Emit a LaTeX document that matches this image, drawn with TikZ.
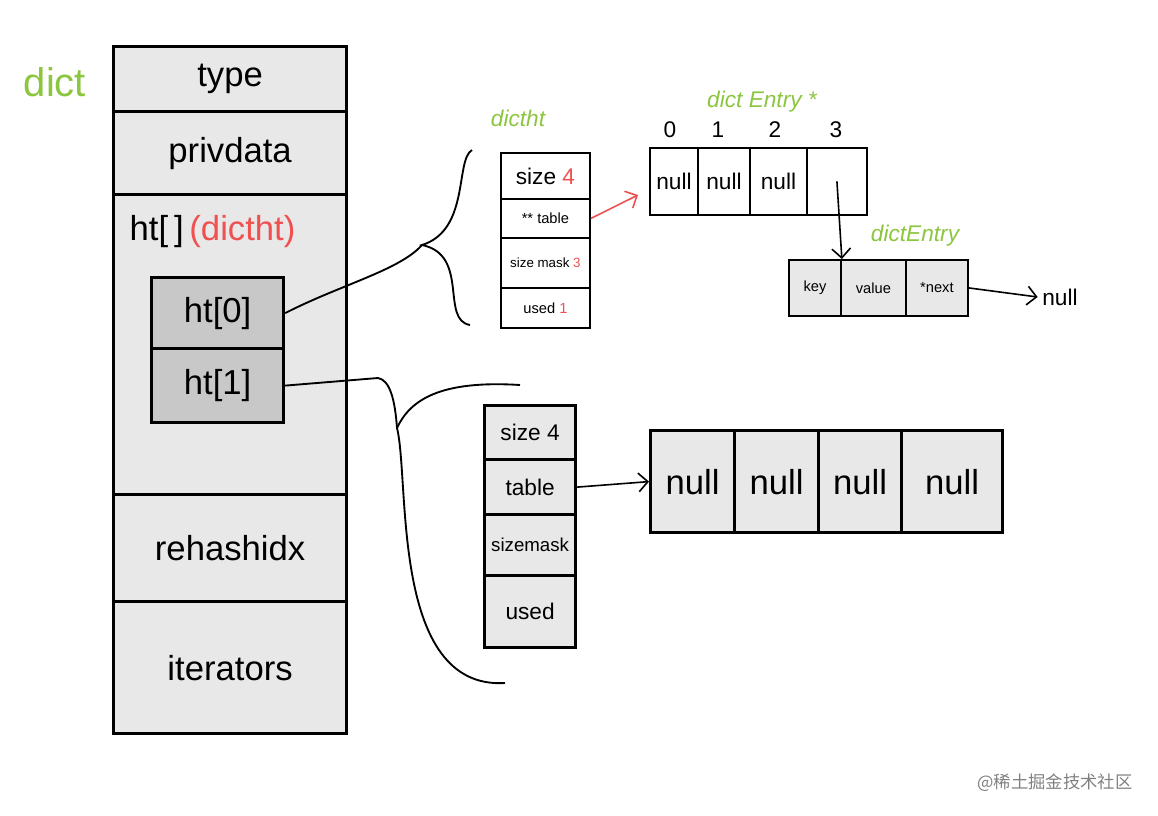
\documentclass[tikz,border=0pt]{standalone}
\usepackage{fontspec}
\setmainfont{Liberation Sans}
\newfontfamily\cjk{Noto Sans CJK SC}
\usetikzlibrary{arrows.meta}
\definecolor{lg}{HTML}{E8E8E8}
\definecolor{dg}{HTML}{C8C8C8}
\definecolor{gr}{HTML}{8CC63F}
\definecolor{rd}{HTML}{F05050}
\begin{document}
\begin{tikzpicture}[x=0.75pt,y=-0.75pt,
  thick box/.style={draw,line width=2.4pt,fill=lg,inner sep=1pt},
  thin box/.style={draw,line width=1.4pt,fill=white,inner sep=1pt},
  big/.style={font=\fontsize{26}{28}\selectfont},
  mid/.style={font=\fontsize{17}{19}\selectfont},
  small/.style={font=\fontsize{11}{13}\selectfont},
  lbl/.style={text=gr,font=\itshape\fontsize{17}{19}\selectfont},
  conn/.style={line width=1.4pt},
  arr/.style={line width=1.2pt,-{Straight Barb[length=7pt]}}]
\useasboundingbox (0,0) rectangle (1158,815);
% dict struct
\node[thick box,minimum width=233*0.75pt,minimum height=65*0.75pt,anchor=north west,big] (type) at (112,45) {type};
\node[thick box,minimum width=233*0.75pt,minimum height=83*0.75pt,anchor=north west,big] (priv) at (112,110) {privdata};
\node[thick box,minimum width=233*0.75pt,minimum height=300*0.75pt,anchor=north west] (ht) at (112,193) {};
\node[thick box,minimum width=233*0.75pt,minimum height=107*0.75pt,anchor=north west,big] (rh) at (112,493) {rehashidx};
\node[thick box,minimum width=233*0.75pt,minimum height=132*0.75pt,anchor=north west,big] (it) at (112,600) {iterators};
\node[big,anchor=west] (htl) at (125,232) {ht[\,]\,\textcolor{rd}{(dictht)}};
\node[text=gr,font=\fontsize{30}{32}\selectfont] (dl) at (55,82) {dict};
\node[thick box,fill=dg,minimum width=132*0.75pt,minimum height=71*0.75pt,anchor=north west,big] (h0) at (150,276) {ht[0]};
\node[thick box,fill=dg,minimum width=132*0.75pt,minimum height=74*0.75pt,anchor=north west,big] (h1) at (150,347) {ht[1]};
% upper dictht
\node[lbl] (l1) at (518,118) {dictht};
\node[thin box,minimum width=89*0.75pt,minimum height=46*0.75pt,anchor=north west,mid] (s1) at (500,152) {size \textcolor{rd}{4}};
\node[thin box,minimum width=89*0.75pt,minimum height=39*0.75pt,anchor=north west,small] (t1) at (500,198) {** table};
\node[thin box,minimum width=89*0.75pt,minimum height=50*0.75pt,anchor=north west,font=\fontsize{10}{12}\selectfont] (m1) at (500,237) {size mask \textcolor{rd}{3}};
\node[thin box,minimum width=89*0.75pt,minimum height=40*0.75pt,anchor=north west,small] (u1) at (500,287) {used \textcolor{rd}{1}};
\coordinate (b0) at (422,245);
\draw[conn] (h0.east) .. controls (340,285) and (400,270) .. (b0);
\draw[line width=1.4pt] (472,150) .. controls (455,160) and (470,230) .. (b0) .. controls (470,255) and (440,320) .. (470,325);
% upper array
\node[lbl] (l2) at (762,102) {dict Entry *};
\foreach \x/\w/\n/\t in {649/48/a0/null,697/52/a1/null,749/57/a2/null,806/60/a3/{}}
  \node[thin box,minimum width=\w*0.75pt,minimum height=67*0.75pt,anchor=north west,mid] (\n) at (\x,147) {\t};
\foreach \x/\i in {670/0,718/1,775/2,836/3} \node[mid] (i\i) at (\x,130) {\i};
\draw[arr,rd] (t1.east) -- (638,195);
% dictEntry
\node[lbl] (l3) at (915,236) {dictEntry};
\node[thin box,fill=lg,minimum width=52*0.75pt,minimum height=56*0.75pt,anchor=north west,small] (k) at (788,259) {key};
\node[thin box,fill=lg,minimum width=65*0.75pt,minimum height=56*0.75pt,anchor=north west,small] (v) at (840,259) {value};
\node[thin box,fill=lg,minimum width=62*0.75pt,minimum height=56*0.75pt,anchor=north west,small] (nx) at (905,259) {*next};
\draw[arr] (a3.center) -- (k.north east);
\node[mid] (nl) at (1060,297) {null};
\draw[arr] (nx.east) -- (nl.west);
% lower dictht
\node[thick box,minimum width=91*0.75pt,minimum height=54*0.75pt,anchor=north west,mid] (s2) at (483,404) {size 4};
\node[thick box,minimum width=91*0.75pt,minimum height=55*0.75pt,anchor=north west,mid] (t2) at (483,458) {table};
\node[thick box,minimum width=91*0.75pt,minimum height=61*0.75pt,anchor=north west,font=\fontsize{14}{16}\selectfont] (m2) at (483,513) {sizemask};
\node[thick box,minimum width=91*0.75pt,minimum height=72*0.75pt,anchor=north west,mid] (u2) at (483,574) {used};
\coordinate (b1) at (397,428);
\draw[conn] (h1.east) -- (378,378) .. controls (390,380) and (395,400) .. (b1);
\draw[line width=1.4pt] (520,385) .. controls (440,380) and (410,400) .. (b1) .. controls (410,480) and (390,690) .. (505,683);
% lower array
\foreach \x/\w/\n in {649/84/c0,733/84/c1,817/83/c2,900/101/c3}
  \node[thick box,minimum width=\w*0.75pt,minimum height=102*0.75pt,anchor=north west,big] (\n) at (\x,429) {null};
\draw[arr] (t2.east) -- (c0.west);
\node[text=gray,font=\cjk\fontsize{13}{15}\selectfont] (wm) at (1055,783) {@稀土掘金技术社区};
\end{tikzpicture}
\end{document}
